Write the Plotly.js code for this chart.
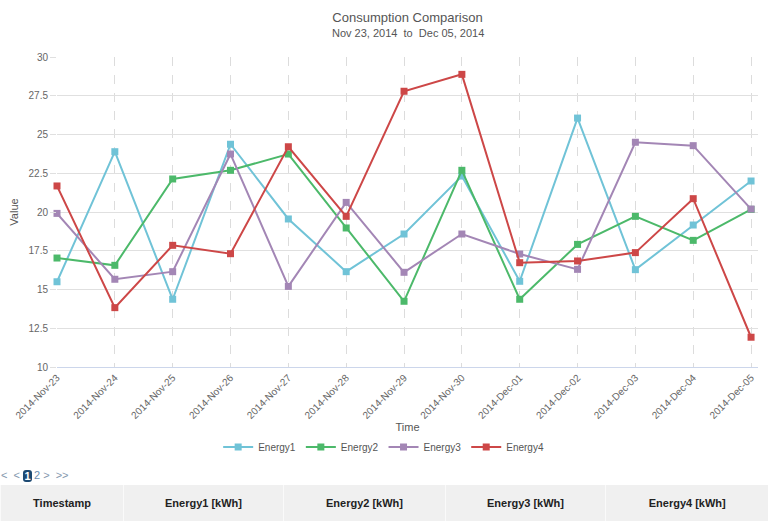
<!DOCTYPE html>
<html>
<head>
<meta charset="utf-8">
<script src="https://cdn.plot.ly/plotly-3.0.1.min.js"></script>
<style>
  html, body { margin: 0; padding: 0; background: #fff; width: 768px; height: 522px; overflow: hidden; font-family: "Liberation Sans", Arial, sans-serif; }
  #chart { width: 768px; height: 465px; }
  #pager { height: 20px; font-size: 11px; color: #8497ad; padding-left: 1px; line-height: 20px; white-space: nowrap; }
  #pager .cur { display: inline-block; background: #1d4a73; color: #fff; font-weight: bold; border-radius: 3px; width: 9px; text-align: center; line-height: 12px; height: 12px; vertical-align: middle; margin: 0 2px 0 3px; }
  #pager .pg { color: #6e8fb3; }
  table { border-collapse: collapse; width: 768px; table-layout: fixed; }
  th { background: #f0f0f0; height: 36px; font-size: 11px; font-weight: bold; color: #222; text-align: center; border-left: 1px solid #fafafa; padding: 0; }
</style>
</head>
<body>
<div id="chart"></div>
<div id="pager">&lt;&nbsp; &lt;<span class="cur">1</span><span class="pg">2</span> &gt;&nbsp; &gt;&gt;</div>
<table>
  <colgroup><col style="width:123px"><col style="width:160px"><col style="width:162px"><col style="width:160px"><col style="width:163px"></colgroup>
  <tr id="hdr"></tr>
</table>
<script>
const dates = ["2014-Nov-23","2014-Nov-24","2014-Nov-25","2014-Nov-26","2014-Nov-27","2014-Nov-28","2014-Nov-29","2014-Nov-30","2014-Dec-01","2014-Dec-02","2014-Dec-03","2014-Dec-04","2014-Dec-05"];
const energy1 = [15.50, 23.89, 14.37, 24.37, 19.55, 16.15, 18.58, 22.32, 15.53, 26.06, 16.28, 19.16, 22.00];
const energy2 = [17.03, 16.56, 22.13, 22.69, 23.74, 18.97, 14.24, 22.69, 14.37, 17.91, 19.72, 18.17, 20.17];
const energy3 = [19.91, 15.66, 16.15, 23.74, 15.20, 20.62, 16.11, 18.58, 17.29, 16.30, 24.50, 24.28, 20.19];
const energy4 = [21.68, 13.83, 17.85, 17.31, 24.21, 19.72, 27.79, 28.88, 16.73, 16.84, 17.38, 20.86, 11.92];
const seriesNames = ["Energy1","Energy2","Energy3","Energy4"];
const seriesColors = ["#70c3d7","#4cb96a","#a386b5","#cd4747"];
const tableHeaders = ["Timestamp","Energy1 [kWh]","Energy2 [kWh]","Energy3 [kWh]","Energy4 [kWh]"];
const titleText = "Consumption Comparison";
const subtitleText = "Nov 23, 2014&nbsp; to&nbsp; Dec 05, 2014";
const yTicks = [10, 12.5, 15, 17.5, 20, 22.5, 25, 27.5, 30];

const allSeries = [energy1, energy2, energy3, energy4];
const traces = allSeries.map((vals, i) => ({
  type: "scatter",
  mode: "lines+markers",
  name: seriesNames[i],
  x: dates,
  y: vals,
  line: { color: seriesColors[i], width: 2 },
  marker: { symbol: "square", size: 7, color: seriesColors[i] },
  cliponaxis: false
}));

const layout = {
  width: 768, height: 465,
  autosize: false,
  margin: { l: 57, r: 10, t: 57, b: 98, autoexpand: false },
  paper_bgcolor: "#fff", plot_bgcolor: "#fff",
  font: { family: "Liberation Sans, Arial, sans-serif", color: "#666", size: 10 },
  title: { text: titleText, font: { size: 13, color: "#555" }, x: 0.5, xanchor: "center", xref: "paper", y: 1 - 17/465, yref: "container", yanchor: "middle" },
  annotations: [{ text: subtitleText, xref: "paper", yref: "paper", x: 0.5, y: 1 + 24/310, xanchor: "center", yanchor: "middle", showarrow: false, font: { size: 11, color: "#555" } }],
  xaxis: {
    type: "category",
    range: [0, 12.12],
    tickangle: -45,
    showgrid: true, gridcolor: "#dcdcdc", griddash: "dash", gridwidth: 1,
    showline: true, linecolor: "#ccd6eb", linewidth: 1,
    ticks: "",
    tickfont: { size: 10, color: "#666" },
    title: { text: "Time", font: { size: 11, color: "#555" }, standoff: 1 },
    zeroline: false, fixedrange: true, automargin: false
  },
  yaxis: {
    range: [10, 30],
    tickvals: yTicks,
    ticktext: yTicks.map(String),
    showgrid: true, gridcolor: "#e0e0e0", gridwidth: 1,
    showline: false,
    ticks: "outside", ticklen: 6, tickcolor: "#e0e0e0",
    tickfont: { size: 10, color: "#666" },
    title: { text: "Value", font: { size: 11, color: "#555" }, standoff: 7 },
    zeroline: false, fixedrange: true, automargin: false
  },
  showlegend: true,
  legend: {
    orientation: "h", x: 0.466, xanchor: "center",
    y: -80/310, yanchor: "middle",
    font: { size: 10, color: "#555" },
    itemwidth: 30, tracegroupgap: 0,
    bgcolor: "rgba(0,0,0,0)"
  }
};

Plotly.newPlot("chart", traces, layout, { displayModeBar: false, staticPlot: true });

const hdr = document.getElementById("hdr");
tableHeaders.forEach(h => { const th = document.createElement("th"); th.textContent = h; hdr.appendChild(th); });
</script>
</body>
</html>
